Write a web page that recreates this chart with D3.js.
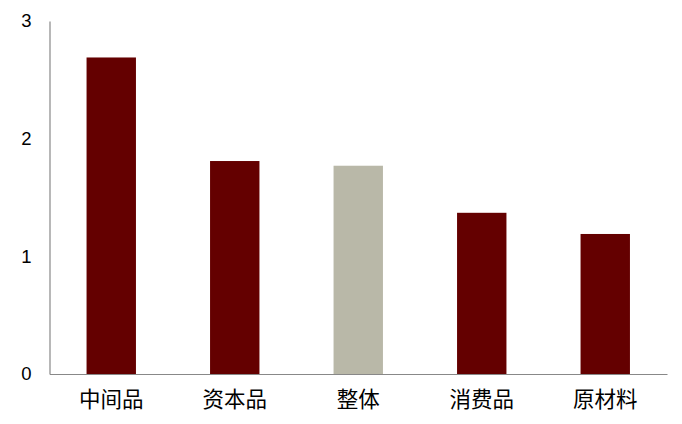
<!DOCTYPE html>
<html>
<head>
<meta charset="utf-8">
<script src="https://cdn.jsdelivr.net/npm/d3@7"></script>
<style>
  body { margin: 0; background: #fff; }
</style>
</head>
<body>
<div id="chart"></div>
<script>
// Data
var categories = ["中间品", "资本品", "整体", "消费品", "原材料"];
var values = [2.69, 1.81, 1.77, 1.37, 1.19];
var yTicks = [0, 1, 2, 3];

var svgWidth = 682;
var svgHeight = 424;
var margin = { top: 21, right: 15, bottom: 50, left: 49.5 };
var width = svgWidth - margin.left - margin.right;
var height = svgHeight - margin.top - margin.bottom;

var svg = d3.select("#chart").append("svg")
  .attr("width", svgWidth)
  .attr("height", svgHeight);

var chartGroup = svg.append("g")
  .attr("transform", `translate(${margin.left}, ${margin.top})`);

var x = d3.scaleBand()
  .domain(categories)
  .range([0, width])
  .paddingInner(0.6)
  .paddingOuter(0.3);

var y = d3.scaleLinear()
  .domain([0, 3])
  .range([height, 0]);

// Bars
chartGroup.selectAll("rect")
  .data(values)
  .enter()
  .append("rect")
  .attr("x", (d, i) => x(categories[i]))
  .attr("y", d => y(d))
  .attr("width", x.bandwidth())
  .attr("height", d => height - y(d))
  .attr("fill", (d, i) => categories[i] === "整体" ? "#b9b8a8" : "#640000");

// Y axis
var yAxis = chartGroup.append("g")
  .call(d3.axisLeft(y).tickValues(yTicks).tickSize(0).tickPadding(18).tickFormat(d3.format("d")));
yAxis.select(".domain").attr("stroke", "#888").attr("stroke-width", 1.2);
yAxis.selectAll("text")
  .attr("font-family", "'Liberation Sans', Arial, sans-serif")
  .attr("font-size", "18.5px")
  .attr("fill", "#000");

// X axis
var xAxis = chartGroup.append("g")
  .attr("transform", `translate(0, ${height})`)
  .call(d3.axisBottom(x).tickSize(0).tickPadding(18));
xAxis.select(".domain").attr("stroke", "#888").attr("stroke-width", 1.2);
xAxis.selectAll("text")
  .attr("font-family", "'Noto Sans CJK SC', sans-serif")
  .attr("font-size", "21.5px")
  .attr("fill", "#000");
</script>
</body>
</html>
